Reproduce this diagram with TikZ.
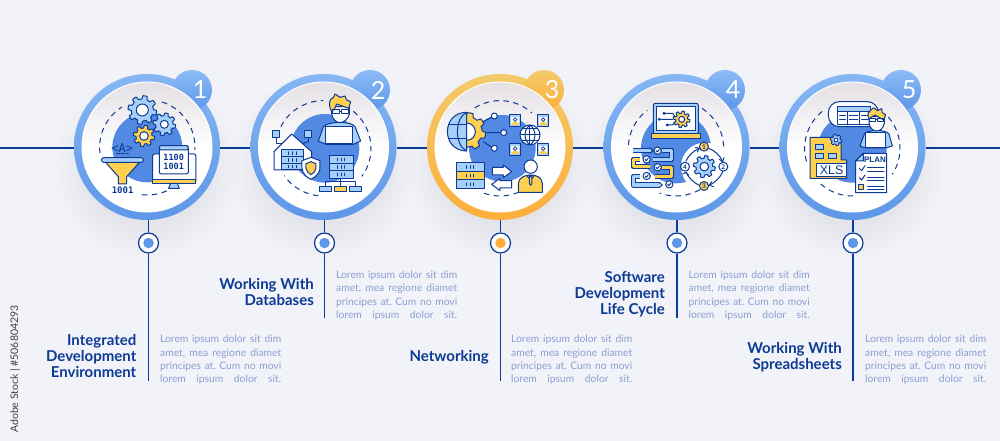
\documentclass[tikz,border=0pt]{standalone}
\usepackage{fontspec}
\setmainfont{Lato}
\newfontfamily\monof{DejaVu Sans Mono}
\newfontfamily\sansf{Liberation Sans}
\definecolor{bgc}{HTML}{F1F3F9}
\definecolor{navy}{HTML}{0C3A94}
\definecolor{blob}{HTML}{5289E3}
\definecolor{lite}{HTML}{A6D0FA}
\definecolor{yel}{HTML}{FFD04F}
\definecolor{bodyc}{HTML}{8B9FD0}
\definecolor{HTMLa}{HTML}{86B6F3}
\definecolor{HTMLb}{HTML}{5E97E8}
\definecolor{HTMLc}{HTML}{F3CB6B}
\definecolor{HTMLd}{HTML}{FDAE3C}
\definecolor{HTMLe}{HTML}{E4E0E4}
\definecolor{HTMLf}{HTML}{8CBBF7}
\tikzset{
 ic/.style={draw=navy,line width=1pt,line join=round,line cap=round},
 dashln/.style={draw=navy,line width=1pt,dash pattern=on 5.5pt off 4.5pt},
 conn/.style={draw=navy,line width=1.2pt},
 ringb/.style={circle,inner sep=0pt,minimum size=146pt,top color=HTMLa,bottom color=HTMLb},
 ringy/.style={circle,inner sep=0pt,minimum size=146pt,top color=HTMLc,bottom color=HTMLd},
 disk/.style={circle,inner sep=0pt,minimum size=130pt,draw=white,line width=1pt,top color=HTMLe,bottom color=white,middle color=white},
 badgeb/.style={circle,inner sep=0pt,minimum size=40pt,top color=HTMLf,bottom color=HTMLb,text=white,font=\fontsize{25}{25}\selectfont},
 badgey/.style={circle,inner sep=0pt,minimum size=40pt,top color=HTMLc,bottom color=HTMLd,text=white,font=\fontsize{25}{25}\selectfont},
 dot/.style={circle,inner sep=0pt,minimum size=20pt,draw=navy,line width=1.2pt,fill=white},
 pip/.style={circle,inner sep=0pt,minimum size=10.5pt,fill=#1},
 head/.style={anchor=base east,align=right,text=navy,font=\bfseries\fontsize{15}{16}\selectfont,inner sep=0pt},
 bodyt/.style={anchor=north west,inner sep=0pt,text=bodyc,font=\fontsize{10.3}{13.4}\selectfont,align=left,text width=121pt},
 tiny/.style={inner sep=0pt,text=navy},
 numc/.style={circle,ic,inner sep=0pt,minimum size=9pt,text=navy,font=\bfseries\fontsize{6.5}{6.5}\selectfont}
}
\newcommand\gearshape[7]{%
 \filldraw[ic,fill=#7] plot[domain=0:360,samples=181,variable=\t]
  ({#1+(#4+(#3-#4)*max(0,min(1,0.5+1.5*sin(#6*\t))))*cos(\t)},{#2+(#4+(#3-#4)*max(0,min(1,0.5+1.5*sin(#6*\t))))*sin(\t)}) -- cycle;
 \filldraw[ic,fill=white] (#1,#2) circle (#5);}
\newcommand\darc[5]{\draw[dashln] plot[domain=#4:#5,samples=40,variable=\t] ({#1+#3*cos(\t)},{#2+#3*sin(\t)});}
\newcommand\srvrow[5]{%
 \filldraw[ic,fill=#5] (#1,#2) rectangle (#3,#4);
 \pgfmathsetmacro\cxx{(#1+#3)/2}\pgfmathsetmacro\cyy{(#2+#4)/2}
 \draw[ic] (\cxx-11,\cyy-4)--(\cxx-11,\cyy+4) (\cxx,\cyy-4)--(\cxx,\cyy+4) (\cxx+11,\cyy-4)--(\cxx+11,\cyy+4);}
\newcommand\tile[2]{%
 \begin{scope}[shift={(#1,#2)}]
 \filldraw[ic,fill=lite] (0,0) rectangle (35,35);
 \fill[white] (6,6) rectangle (29,30);
 \fill[yel] (6,30) -- (6,25) -- (13,21) -- (22,21) -- (29,25) -- (29,30) -- cycle;
 \draw[navy,line width=.7pt,fill=white] (17.5,14) circle (5.5);
 \end{scope}}
\newcommand\ckm[2]{%
 \filldraw[ic,fill=white] (#1,#2) circle (11);
 \draw[ic] (#1-5,#2) -- (#1-1,#2+4) -- (#1+5,#2-4);}
\newcommand\snake[2]{\draw[navy,line width=5.6pt,line join=round] #1; \draw[#2,line width=3.4pt,line join=round] #1;}
\frenchspacing
\begin{document}
\begin{tikzpicture}[x=1pt,y=-1pt]
\useasboundingbox (0,0) rectangle (1000,441);
\fill[bgc] (0,0) rectangle (1000,441);
% shadows
\foreach \cx in {147,323,500,676,852}{
 \foreach \i in {1,...,14}{
  \fill[black!50!blue!50,opacity=0.007] (\cx,166) circle ({58+\i*2.5});
 }}
% connector ends
\coordinate (L) at (0,148);
\coordinate (R) at (1000,148);
\coordinate (e1) at (148.5,381);
\coordinate (e2) at (324.5,318);
\coordinate (e3) at (500.5,381);
\coordinate (e4) at (677,318);
\coordinate (e5) at (853,381);
\node[dot] (p1) at (148.5,243) {};
\node[dot] (p2) at (324.5,243) {};
\node[dot] (p3) at (500.5,243) {};
\node[dot] (p4) at (677,243) {};
\node[dot] (p5) at (853,243) {};
\node[ringb] (c1) at (147,147) {};
\node[ringb] (c2) at (323.5,147) {};
\node[ringy] (c3) at (500,147) {};
\node[ringb] (c4) at (676.5,147) {};
\node[ringb] (c5) at (852.5,147) {};
\draw[conn] (L) -- (c1.west |- L);
\draw[conn] (c1.east |- L) -- (c2.west |- L);
\draw[conn] (c2.east |- L) -- (c3.west |- L);
\draw[conn] (c3.east |- L) -- (c4.west |- L);
\draw[conn] (c4.east |- L) -- (c5.west |- L);
\draw[conn] (c5.east |- L) -- (R);
\foreach \k in {1,...,5}{
 \draw[conn] (p\k.south) -- (e\k);
 \draw[conn] (p\k |- c\k.south) -- (p\k.north);
}
\node[pip=HTMLb] (q1) at (p1) {};
\node[pip=HTMLb] (q2) at (p2) {};
\node[pip=HTMLd] (q3) at (p3) {};
\node[pip=HTMLb] (q4) at (p4) {};
\node[pip=HTMLb] (q5) at (p5) {};
\node[badgeb] (b1) at (192,90) {\hspace*{16pt}1};
\node[badgeb] (b2) at (370,90) {\hspace*{16pt}2};
\node[badgey] (b3) at (544,90) {\hspace*{16pt}3};
\node[badgeb] (b4) at (725,90) {\hspace*{16pt}4};
\node[badgeb] (b5) at (901,90) {\hspace*{16pt}5};
\node[disk] (d1) at (c1) {};
\node[disk] (d2) at (c2) {};
\node[disk] (d3) at (c3) {};
\node[disk] (d4) at (c4) {};
\node[disk] (d5) at (c5) {};
% ICON 1
\begin{scope}[shift={(60,60)},x=0.3333pt,y=-0.3333pt]
\fill[blob] (262,262) circle (105);
\darc{262}{262}{143}{173}{238}\darc{262}{262}{143}{288}{363}\darc{262}{262}{143}{66}{101}
\gearshape{247}{150}{43}{33}{18}{8}{lite}
\gearshape{313}{193}{34}{26}{12}{8}{lite}
\gearshape{252}{228}{32}{24}{13}{8}{yel}
\filldraw[ic,fill=yel] (135,305) -- (240,305) -- (200,350) -- (200,372) -- (175,372) -- (175,350) -- cycle;
\filldraw[ic,fill=lite,rounded corners=2pt] (125,293) rectangle (250,307);
\node[tiny,font=\monof\fontsize{12}{12}\selectfont] (t1a) at (187,263) {<A>};
\draw[ic,dash pattern=on 3pt off 1.5pt] (170,281) -- (205,281);
\node[tiny,font=\monof\bfseries\fontsize{9}{9}\selectfont] (t1b) at (188,392) {1001};
\filldraw[ic,fill=white,rounded corners=2pt] (278,282) rectangle (408,370);
\filldraw[ic,fill=yel] (278,358) rectangle (408,370);
\filldraw[ic,fill=lite] (332,370) -- (352,370) -- (358,385) -- (326,385) -- cycle;
\filldraw[ic,fill=white,rounded corners=2pt] (298,257) rectangle (385,342);
\filldraw[ic,fill=lite,rounded corners=2pt] (298,257) rectangle (385,270);
\node[tiny,align=center,font=\monof\bfseries\fontsize{8.5}{8.5}\selectfont] (t1c) at (341,306) {1100\\1001};
\end{scope}
% ICON 2
\begin{scope}[shift={(240,60)},x=0.3333pt,y=-0.3333pt]
\fill[blob] (255,265) circle (103);
\darc{250}{265}{143}{207}{270}\darc{250}{265}{143}{309}{396}\darc{250}{265}{143}{96}{145}
\filldraw[ic,fill=lite] (235,243) -- (250,200) .. controls (265,183) and (335,183) .. (345,200) -- (362,243) -- (340,253) -- (257,253) -- cycle;
\filldraw[ic,fill=white] (275,140) -- (328,140) -- (328,162) .. controls (325,178) and (310,188) .. (300,188) .. controls (290,188) and (277,178) .. (275,162) -- cycle;
\filldraw[ic,fill=yel] (275,155) .. controls (262,130) and (270,115) .. (280,113) -- (285,102) -- (300,112) -- (315,108) -- (320,120) -- (332,125) -- (326,145) -- (290,132) -- (283,148) -- cycle;
\draw[ic] (277,150) rectangle (298,160) (304,150) rectangle (326,160) (298,154) -- (304,154);
\filldraw[ic,fill=white] (257,200) rectangle (338,252);
\filldraw[ic,fill=white] (102,330) -- (102,275) -- (155,222) -- (215,275) -- (215,330) -- cycle;
\draw[ic] (108,232) -- (108,250) -- (125,250);
\draw[ic] (205,232) -- (205,245) -- (190,250);
\filldraw[ic,fill=lite] (98,212) rectangle (118,232);
\filldraw[ic,fill=lite] (195,212) rectangle (215,232);
\srvrow{125}{270}{190}{290}{lite}\srvrow{125}{290}{190}{310}{lite}\srvrow{125}{310}{190}{330}{lite}
\filldraw[ic,fill=white] (213,292) -- (240,302) -- (240,325) .. controls (238,342) and (225,352) .. (213,358) .. controls (200,352) and (188,342) .. (186,325) -- (186,302) -- cycle;
\filldraw[ic,fill=yel] (213,305) -- (228,311) -- (228,325) .. controls (226,335) and (220,340) .. (213,344) .. controls (206,340) and (200,335) .. (198,325) -- (198,311) -- cycle;
\draw[ic] (303,355) -- (303,380) (303,366) -- (257,366) -- (257,380) (303,366) -- (348,366) -- (348,380);
\srvrow{268}{288}{340}{310}{lite}\srvrow{268}{310}{340}{332}{lite}\srvrow{268}{332}{340}{355}{lite}
\filldraw[ic,fill=lite] (240,380) rectangle (275,395);
\filldraw[ic,fill=yel] (285,380) rectangle (320,395);
\filldraw[ic,fill=lite] (330,380) rectangle (366,395);
\end{scope}
% ICON 3
\begin{scope}[shift={(415,60)},x=0.3333pt,y=-0.3333pt]
\fill[blob] (262,265) circle (100);
\darc{255}{265}{143}{238}{312}\darc{255}{265}{143}{67}{115}
\draw[ic] (205,185) -- (232,170) (215,218) -- (258,218) (205,245) -- (230,262);
\filldraw[ic,fill=white] (238,168) circle (9);
\filldraw[ic,fill=white] (266,218) circle (9);
\filldraw[ic,fill=white] (238,265) circle (9);
\gearshape{155}{215}{57}{46}{26}{8}{yel}
\filldraw[ic,fill=lite] (155,157) .. controls (78,157) and (78,273) .. (155,273) -- cycle;
\draw[ic] (155,157) .. controls (118,175) and (118,255) .. (155,273);
\draw[ic] (103,195) -- (155,195) (103,235) -- (155,235);
\tile{283}{165}\tile{367}{165}\tile{283}{252}\tile{367}{252}
\filldraw[ic,fill=white] (345,225) circle (30);
\draw[ic] (315,225) -- (375,225) (345,195) -- (345,255) (322,207) -- (368,207) (322,243) -- (368,243);
\draw[ic] (345,195) .. controls (325,210) and (325,240) .. (345,255) (345,195) .. controls (365,210) and (365,240) .. (345,255);
\srvrow{123}{308}{208}{334}{lite}\srvrow{123}{334}{208}{360}{yel}\srvrow{123}{360}{208}{386}{lite}
\filldraw[ic,fill=white] (232,322) -- (265,322) -- (265,315) -- (290,335) -- (265,353) -- (265,345) -- (232,345) -- cycle;
\filldraw[ic,fill=white] (290,362) -- (255,362) -- (255,355) -- (230,373) -- (255,392) -- (255,384) -- (290,384) -- cycle;
\filldraw[ic,fill=yel] (310,397) -- (310,370) .. controls (312,352) and (330,345) .. (347,345) .. controls (365,345) and (380,352) .. (382,370) -- (382,397) -- cycle;
\filldraw[ic,fill=white] (335,347) -- (358,347) -- (347,360) -- cycle;
\filldraw[ic,fill=yel] (343,350) -- (351,350) -- (351,370) -- (347,376) -- (343,370) -- cycle;
\filldraw[ic,fill=white] (347,320) circle (20);
\end{scope}
% ICON 4
\begin{scope}[shift={(590,60)},x=0.3333pt,y=-0.3333pt]
\fill[blob] (258,265) circle (105);
\fill[white] (345,320) circle (72);
\darc{258}{265}{143}{184}{233}\darc{258}{265}{143}{303}{362}\darc{258}{265}{143}{60}{110}
\filldraw[ic,fill=lite,rounded corners=2pt] (190,130) rectangle (325,222);
\filldraw[ic,fill=white] (200,140) rectangle (315,212);
\filldraw[ic,fill=yel] (185,222) rectangle (330,235);
\gearshape{275}{178}{25}{18}{9}{8}{yel}
\draw[ic] (225,160) -- (248,160) -- (255,170) (212,178) -- (248,178) (235,195) -- (248,195) -- (255,185);
\filldraw[ic,fill=white] (222,160) circle (3) (208,178) circle (3) (232,195) circle (3);
\snake{(130,272) -- (183,272)}{lite}
\draw[ic] (180,264) -- (190,272) -- (180,280);
\snake{(215,272) -- (245,272) -- (245,298) -- (190,298)}{lite}
\snake{(150,298) -- (130,298) -- (130,320) -- (180,320)}{yel}
\snake{(215,322) -- (245,322) -- (245,350) -- (195,350)}{yel}
\snake{(150,350) -- (130,350) -- (130,375) -- (210,375)}{lite}
\draw[ic] (207,367) -- (217,375) -- (207,383);
\ckm{203}{272}\ckm{170}{298}\ckm{203}{322}\ckm{170}{348}\ckm{238}{373}
\gearshape{343}{320}{33}{25}{13}{8}{lite}
\draw[ic] (356,265) .. controls (375,272) and (392,288) .. (398,305);
\draw[ic] (398,335) .. controls (392,352) and (375,368) .. (358,376);
\draw[ic] (328,376) .. controls (310,368) and (295,352) .. (288,337);
\draw[ic] (288,303) .. controls (295,288) and (310,272) .. (328,265);
\draw[ic] (388,298) -- (398,305) -- (402,293);
\draw[ic] (370,380) -- (358,376) -- (365,365);
\draw[ic] (278,342) -- (288,337) -- (296,346);
\draw[ic] (316,262) -- (328,265) -- (322,276);
\node[numc,fill=yel] (n1) at (342,260) {1};
\node[numc,fill=white] (n2) at (400,320) {2};
\node[numc,fill=yel] (n3) at (342,378) {3};
\node[numc,fill=white] (n4) at (285,320) {4};
\end{scope}
% ICON 5
\begin{scope}[shift={(765,60)},x=0.3333pt,y=-0.3333pt]
\fill[blob] (262,265) circle (103);
\darc{262}{265}{143}{164}{232}\darc{262}{265}{143}{319}{393}\darc{262}{265}{143}{89}{133}
\filldraw[ic,fill=white,rounded corners=11pt] (190,125) rectangle (340,200);
\filldraw[ic,fill=white] (218,140) rectangle (315,195);
\filldraw[ic,fill=lite] (218,140) rectangle (315,155);
\draw[ic] (247,155) -- (247,195) (284,155) -- (284,195);
\draw[ic] (224,168) -- (241,168) (224,180) -- (241,180) (253,168) -- (278,168) (253,180) -- (278,180) (290,168) -- (309,168) (290,180) -- (309,180);
\filldraw[ic,fill=lite] (285,258) -- (298,222) .. controls (310,208) and (362,208) .. (372,222) -- (382,258) -- (362,264) -- (302,264) -- cycle;
\filldraw[ic,fill=white] (312,170) -- (358,170) -- (358,190) .. controls (355,205) and (345,213) .. (335,213) .. controls (325,213) and (315,205) .. (312,190) -- cycle;
\filldraw[ic,fill=yel] (312,178) .. controls (305,160) and (310,155) .. (318,150) -- (325,143) -- (338,152) -- (350,146) -- (352,158) -- (362,165) -- (356,180) -- (330,165) -- (318,172) -- cycle;
\draw[ic] (314,175) rectangle (332,185) (338,175) rectangle (356,185) (332,179) -- (338,179);
\filldraw[ic,fill=white] (302,218) rectangle (362,263);
\filldraw[ic,fill=yel] (135,232) -- (215,232) -- (228,250) -- (228,300) -- (245,300) -- (245,355) -- (135,355) -- cycle;
\gearshape{213}{240}{17}{13}{6}{6}{lite}
\filldraw[ic,fill=lite] (150,255) rectangle (175,268);
\filldraw[ic,fill=lite] (150,282) rectangle (175,295);
\filldraw[ic,fill=lite] (190,282) rectangle (215,295);
\filldraw[ic,fill=white] (155,312) rectangle (245,350);
\node[tiny,font=\sansf\fontsize{12.5}{12.5}\selectfont] (t5a) at (200,332) {XLS};
\filldraw[ic,fill=white] (295,280) -- (365,280) -- (365,398) -- (272,398) -- (272,303) -- cycle;
\filldraw[ic,fill=lite] (295,280) -- (295,303) -- (272,303) -- cycle;
\node[tiny,font=\sansf\bfseries\fontsize{8}{8}\selectfont] (t5b) at (330,298) {PLAN};
\draw[ic] (283,325) -- (290,332) -- (300,317) (283,353) -- (290,360) -- (300,345);
\draw[ic] (308,324) -- (357,324) (308,335) -- (357,335) (308,352) -- (357,352) (308,362) -- (357,362) (308,380) -- (357,380) (308,390) -- (357,390);
\filldraw[ic,fill=yel] (281,375) rectangle (296,390);
\end{scope}
% TEXT
\node[head] (h1) at (136.5,377) {Integrated\\Development\\Environment};
\node[head] (h2) at (314,305) {Working With\\Databases};
\node[head] (h3) at (489,361) {Networking};
\node[head] (h4) at (665,314) {Software\\Development\\Life Cycle};
\node[head] (h5) at (842,369) {Working With\\Spreadsheets};
\newcommand\lorline[1]{\makebox[121pt][s]{\spaceskip=0pt\xspaceskip=0pt #1}}
\newcommand\lorem{\lorline{Lorem ipsum dolor sit dim}\\\lorline{amet, mea regione diamet}\\\lorline{principes at. Cum no movi}\\\lorline{lorem ipsum dolor sit.}}
\node[bodyt] (t1) at (160,335) {\lorem};
\node[bodyt] (t2) at (336,270.5) {\lorem};
\node[bodyt] (t3) at (511,335) {\lorem};
\node[bodyt] (t4) at (688.5,270.5) {\lorem};
\node[bodyt] (t5) at (865,335) {\lorem};
\node[rotate=90,anchor=west,inner sep=0pt,text=black!75,font=\fontsize{10.5}{11}\selectfont] (stock) at (15,433) {Adobe Stock | \#506804293};
\end{tikzpicture}
\end{document}
